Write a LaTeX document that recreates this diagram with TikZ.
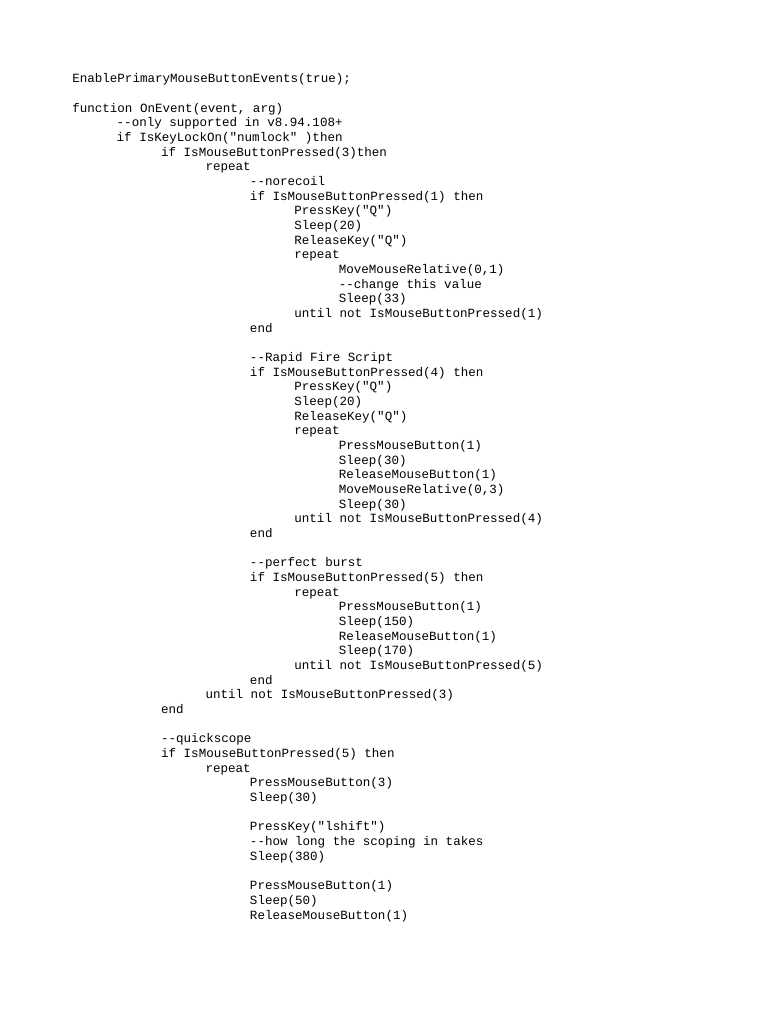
\documentclass[tikz,border=0pt]{standalone}
\usepackage{fontspec}
\setmonofont{Liberation Mono}
\newcommand\Ln[3]{\node[codeline] (l#1) at ({57.4pt+#2*35.4pt},{-66pt-#1*11.69pt}) {#3};}
\begin{document}
\begin{tikzpicture}[codeline/.style={anchor=base west,inner sep=0pt,font=\ttfamily\fontsize{10}{12}\selectfont}]
\useasboundingbox[fill=white] (0,0) rectangle (612pt,-816pt);
\Ln{0}{0}{EnablePrimaryMouseButtonEvents(true);}
\Ln{2}{0}{function OnEvent(event, arg)}
\Ln{3}{1}{--only supported in v8.94.108+}
\Ln{4}{1}{if IsKeyLockOn("numlock" )then}
\Ln{5}{2}{if IsMouseButtonPressed(3)then}
\Ln{6}{3}{repeat}
\Ln{7}{4}{--norecoil}
\Ln{8}{4}{if IsMouseButtonPressed(1) then}
\Ln{9}{5}{PressKey("Q")}
\Ln{10}{5}{Sleep(20)}
\Ln{11}{5}{ReleaseKey("Q")}
\Ln{12}{5}{repeat}
\Ln{13}{6}{MoveMouseRelative(0,1)}
\Ln{14}{6}{--change this value}
\Ln{15}{6}{Sleep(33)}
\Ln{16}{5}{until not IsMouseButtonPressed(1)}
\Ln{17}{4}{end}
\Ln{19}{4}{--Rapid Fire Script}
\Ln{20}{4}{if IsMouseButtonPressed(4) then}
\Ln{21}{5}{PressKey("Q")}
\Ln{22}{5}{Sleep(20)}
\Ln{23}{5}{ReleaseKey("Q")}
\Ln{24}{5}{repeat}
\Ln{25}{6}{PressMouseButton(1)}
\Ln{26}{6}{Sleep(30)}
\Ln{27}{6}{ReleaseMouseButton(1)}
\Ln{28}{6}{MoveMouseRelative(0,3)}
\Ln{29}{6}{Sleep(30)}
\Ln{30}{5}{until not IsMouseButtonPressed(4)}
\Ln{31}{4}{end}
\Ln{33}{4}{--perfect burst}
\Ln{34}{4}{if IsMouseButtonPressed(5) then}
\Ln{35}{5}{repeat}
\Ln{36}{6}{PressMouseButton(1)}
\Ln{37}{6}{Sleep(150)}
\Ln{38}{6}{ReleaseMouseButton(1)}
\Ln{39}{6}{Sleep(170)}
\Ln{40}{5}{until not IsMouseButtonPressed(5)}
\Ln{41}{4}{end}
\Ln{42}{3}{until not IsMouseButtonPressed(3)}
\Ln{43}{2}{end}
\Ln{45}{2}{--quickscope}
\Ln{46}{2}{if IsMouseButtonPressed(5) then}
\Ln{47}{3}{repeat}
\Ln{48}{4}{PressMouseButton(3)}
\Ln{49}{4}{Sleep(30)}
\Ln{51}{4}{PressKey("lshift")}
\Ln{52}{4}{--how long the scoping in takes}
\Ln{53}{4}{Sleep(380)}
\Ln{55}{4}{PressMouseButton(1)}
\Ln{56}{4}{Sleep(50)}
\Ln{57}{4}{ReleaseMouseButton(1)}
\end{tikzpicture}
\end{document}
